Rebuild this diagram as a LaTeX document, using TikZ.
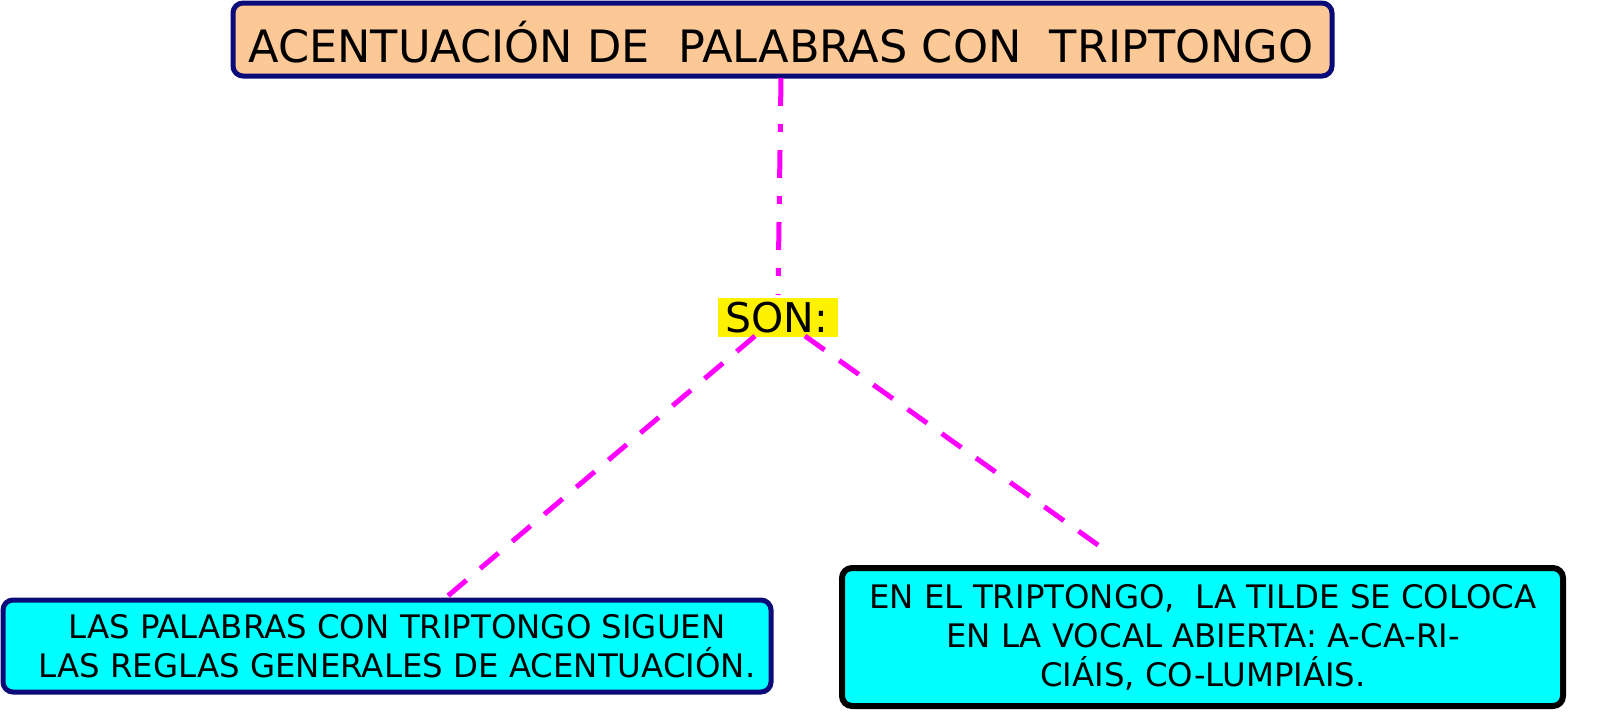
\documentclass[tikz,border=0pt]{standalone}
\usepackage{fontspec}
\setmainfont{DejaVu Sans}
\definecolor{navy}{HTML}{0A0A78}
\definecolor{orng}{HTML}{FBC896}
\definecolor{cyn}{HTML}{00FFFF}
\definecolor{mag}{HTML}{FF00FF}
\begin{document}%
\begin{tikzpicture}[x=0.5pt,y=-0.5pt,
  box/.style={rounded corners=5pt,line width=2.5pt,draw=navy,inner sep=0pt},
  conn/.style={draw=mag,line width=2.5pt,dash pattern=on 12pt off 9pt},
  txt/.style={align=center,font=\fontsize{16.2}{19.5}\selectfont}]
\useasboundingbox (0,0) rectangle (1600,724);
\filldraw[box,fill=orng] (233,3) rectangle (1332,76);
\node[font=\fontsize{22.3}{26}\selectfont] (t) at (781,42) {ACENTUACIÓN DE\ \ PALABRAS CON\ \ TRIPTONGO};
\coordinate (tb) at (781,78);
\fill[yellow] (718,298) rectangle (838,337);
\node[font=\fontsize{20.5}{24}\selectfont] (son) at (777,318) {SON:};
\filldraw[box,fill=cyn] (3,600) rectangle (771,692);
\node[txt] (l) at (397,646) {LAS PALABRAS CON TRIPTONGO SIGUEN\\ LAS REGLAS GENERALES DE ACENTUACIÓN.};
\filldraw[box,draw=black,line width=3pt,fill=cyn] (842,568) rectangle (1563,706);
\node[txt] (r) at (1203,637) {EN EL TRIPTONGO,\ \ LA TILDE SE COLOCA\\ EN LA VOCAL ABIERTA: A-CA-RI-\\ CIÁIS, CO-LUMPIÁIS.};
\draw[draw=mag,line width=2.5pt,dash pattern=on 14pt off 9pt on 4pt off 9pt] (tb) -- (778,295);
\draw[conn] (755,336) -- (443,600);
\draw[conn] (805,336) -- (1112,555);
\end{tikzpicture}%
\end{document}
